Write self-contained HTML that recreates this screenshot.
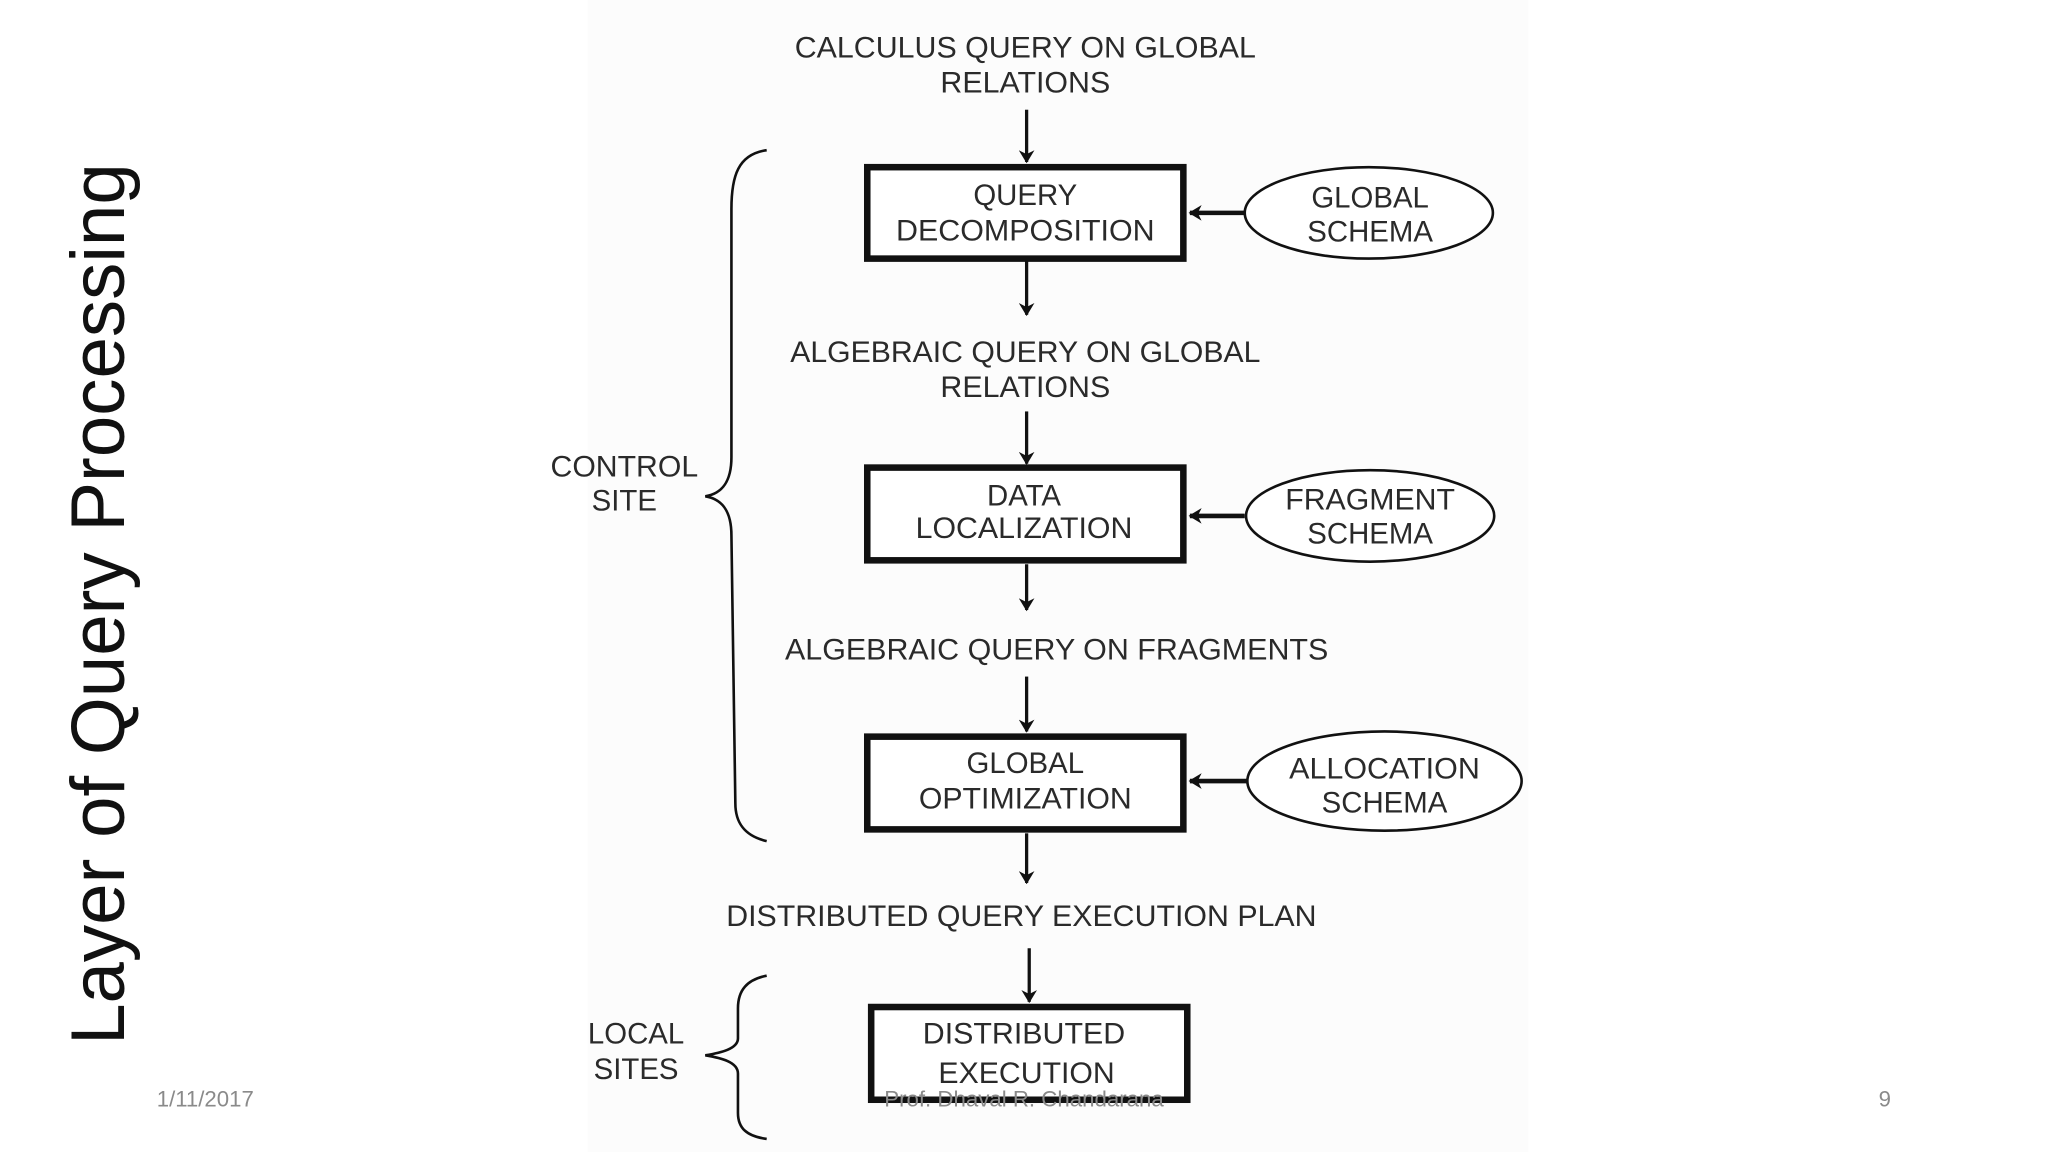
<!DOCTYPE html>
<html><head><meta charset="utf-8"><style>
html,body{margin:0;padding:0;background:#fff;}
svg{display:block;}
.t{font-family:"Liberation Sans",sans-serif;font-size:22.5px;fill:#2a2a2a;text-anchor:middle;}
.f{font-family:"Liberation Sans",sans-serif;font-size:17px;fill:#8a8a8a;}
</style></head><body>
<svg width="2048" height="1152" viewBox="0 0 1568 882" xmlns="http://www.w3.org/2000/svg">
<defs><marker id="a" markerWidth="10" markerHeight="12" refX="9" refY="6" orient="auto" markerUnits="userSpaceOnUse">
<path d="M0,0 L10,6 L0,12 L3,6 Z" fill="#111"/></marker></defs>
<rect x="450" y="0" width="720" height="882" fill="#fcfcfc"/>
<text transform="translate(95,800) rotate(-90)" font-family="Liberation Sans,sans-serif" font-size="58" font-weight="300" fill="#111" textLength="675" lengthAdjust="spacingAndGlyphs">Layer of Query Processing</text>
<g stroke="#111" stroke-width="2.5" fill="none">
<line x1="786" y1="84" x2="786" y2="124" marker-end="url(#a)"/>
<line x1="786" y1="200" x2="786" y2="241" marker-end="url(#a)"/>
<line x1="786" y1="315" x2="786" y2="355" marker-end="url(#a)"/>
<line x1="786" y1="432" x2="786" y2="467" marker-end="url(#a)"/>
<line x1="786" y1="518" x2="786" y2="560" marker-end="url(#a)"/>
<line x1="786" y1="638" x2="786" y2="676" marker-end="url(#a)"/>
<line x1="788" y1="726" x2="788" y2="767" marker-end="url(#a)"/>
<line x1="953" y1="163" x2="911" y2="163" stroke-width="3.5" marker-end="url(#a)"/>
<line x1="953" y1="395" x2="911" y2="395" stroke-width="3.5" marker-end="url(#a)"/>
<line x1="955" y1="598" x2="911" y2="598" stroke-width="3.5" marker-end="url(#a)"/>
</g>
<g stroke="#111" stroke-width="5" fill="#fff">
<rect x="664" y="128" width="242" height="70"/>
<rect x="664" y="358" width="242" height="71"/>
<rect x="664" y="564" width="242" height="71"/>
<rect x="667" y="771" width="242" height="71"/>
</g>
<g stroke="#111" stroke-width="2" fill="#fff">
<ellipse cx="1048" cy="163" rx="95" ry="35"/>
<ellipse cx="1049" cy="395" rx="95" ry="35"/>
<ellipse cx="1060" cy="598" rx="105" ry="38"/>
</g>
<g stroke="#111" stroke-width="2" fill="none">
<path d="M587,115 C565,118 560,135 560,160 L560,350 C560,370 552,378 540,380 C552,382 560,390 560,410 L563,615 C563,630 570,640 587,644"/>
<path d="M587,747 C572,750 565,758 565,772 L565,795 C565,803 552,806 540,808 C552,810 565,813 565,822 L565,852 C565,864 572,870 587,872"/>
</g>
<text class="t" x="785" y="44" textLength="353" lengthAdjust="spacingAndGlyphs">CALCULUS QUERY ON GLOBAL</text>
<text class="t" x="785" y="71" textLength="130" lengthAdjust="spacingAndGlyphs">RELATIONS</text>
<text class="t" x="785" y="157">QUERY</text>
<text class="t" x="785" y="184" textLength="198" lengthAdjust="spacingAndGlyphs">DECOMPOSITION</text>
<text class="t" x="1049" y="159">GLOBAL</text>
<text class="t" x="1049" y="185">SCHEMA</text>
<text class="t" x="785" y="277" textLength="360" lengthAdjust="spacingAndGlyphs">ALGEBRAIC QUERY ON GLOBAL</text>
<text class="t" x="785" y="304" textLength="130" lengthAdjust="spacingAndGlyphs">RELATIONS</text>
<text class="t" x="478" y="365" textLength="113" lengthAdjust="spacingAndGlyphs">CONTROL</text>
<text class="t" x="478" y="391">SITE</text>
<text class="t" x="784" y="387">DATA</text>
<text class="t" x="784" y="412" textLength="166" lengthAdjust="spacingAndGlyphs">LOCALIZATION</text>
<text class="t" x="1049" y="390" textLength="130" lengthAdjust="spacingAndGlyphs">FRAGMENT</text>
<text class="t" x="1049" y="416">SCHEMA</text>
<text class="t" x="809" y="505" textLength="416" lengthAdjust="spacingAndGlyphs">ALGEBRAIC QUERY ON FRAGMENTS</text>
<text class="t" x="785" y="592">GLOBAL</text>
<text class="t" x="785" y="619" textLength="163" lengthAdjust="spacingAndGlyphs">OPTIMIZATION</text>
<text class="t" x="1060" y="596" textLength="146" lengthAdjust="spacingAndGlyphs">ALLOCATION</text>
<text class="t" x="1060" y="622">SCHEMA</text>
<text class="t" x="782" y="709" textLength="452" lengthAdjust="spacingAndGlyphs">DISTRIBUTED QUERY EXECUTION PLAN</text>
<text class="t" x="487" y="799">LOCAL</text>
<text class="t" x="487" y="826">SITES</text>
<text class="t" x="784" y="799" textLength="155" lengthAdjust="spacingAndGlyphs">DISTRIBUTED</text>
<text class="t" x="786" y="829" textLength="135" lengthAdjust="spacingAndGlyphs">EXECUTION</text>
<text class="f" x="120" y="847">1/11/2017</text>
<text class="f" x="784" y="847" text-anchor="middle" textLength="214" lengthAdjust="spacingAndGlyphs">Prof. Dhaval R. Chandarana</text>
<text class="f" x="1443" y="847" text-anchor="middle">9</text>
</svg>
</body></html>
